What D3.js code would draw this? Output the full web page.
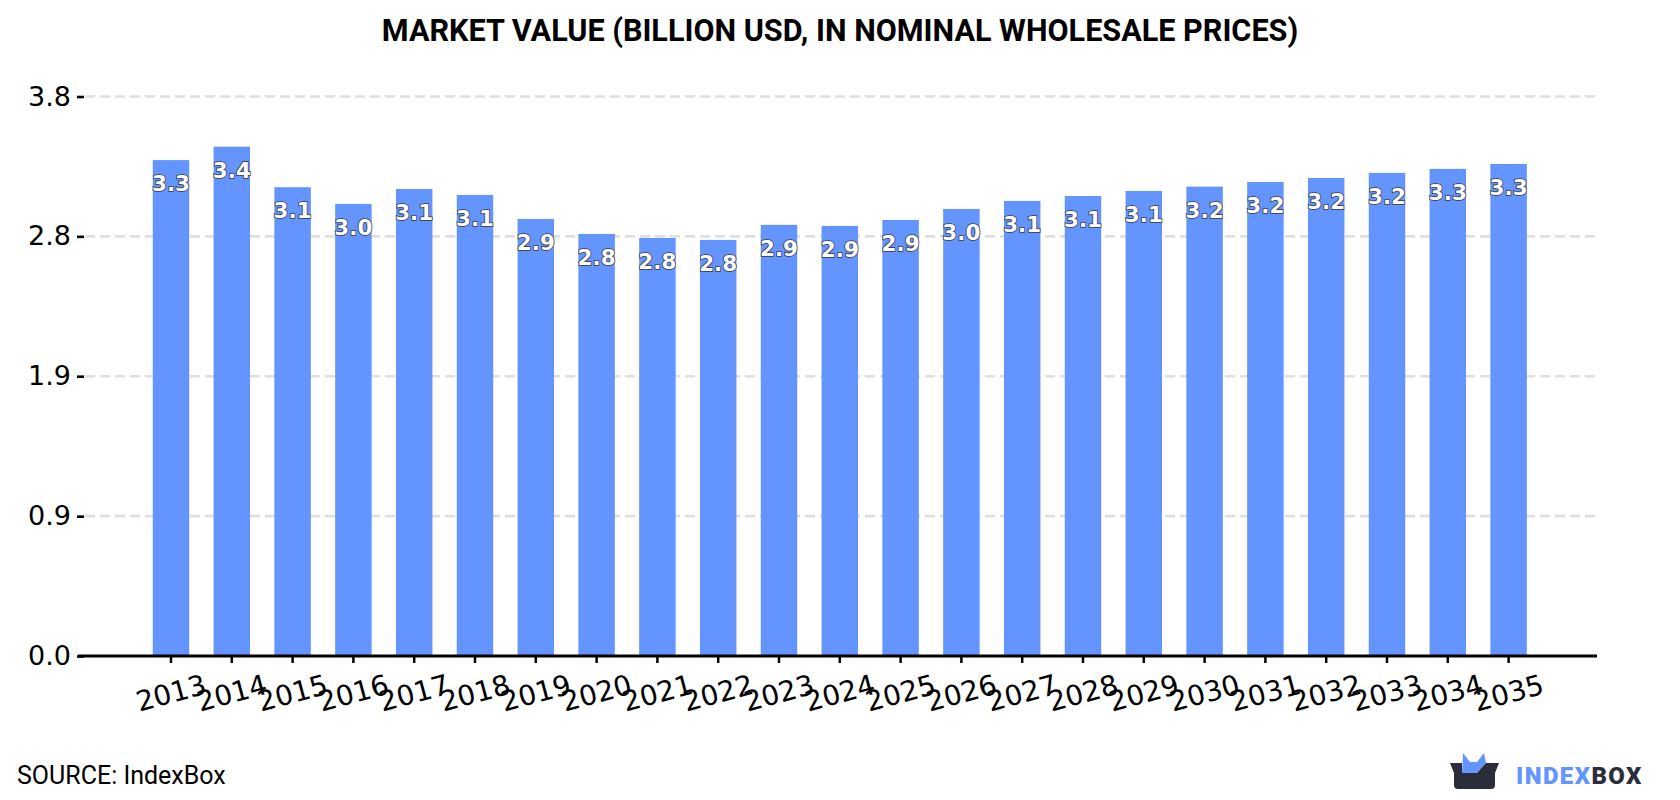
<!DOCTYPE html>
<html>
<head>
<meta charset="utf-8">
<script src="https://cdn.jsdelivr.net/npm/d3@7/dist/d3.min.js"></script>
<style>
html, body { margin: 0; padding: 0; background: #fff; }
svg { display: block; }
</style>
</head>
<body>
<svg id="chart" width="1680" height="800"></svg>
<script>
const years = ["2013","2014","2015","2016","2017","2018","2019","2020","2021","2022","2023","2024","2025","2026","2027","2028","2029","2030","2031","2032","2033","2034","2035"];
const marketValue = [3.33,3.42,3.148,3.036,3.136,3.096,2.935,2.834,2.807,2.794,2.895,2.888,2.928,3.002,3.056,3.089,3.123,3.152,3.183,3.21,3.244,3.271,3.304];
const yTicks = [0, 0.939, 1.879, 2.818, 3.757];
const yTickLabels = ["0.0","0.9","1.9","2.8","3.8"];

const titleText = "MARKET VALUE (BILLION USD, IN NOMINAL WHOLESALE PRICES)";
const sourceText = "SOURCE: IndexBox";

const svg = d3.select("#chart");

const x = d3.scaleBand().domain(years).range([140.6, 1539]).paddingInner(0.4).paddingOuter(0.2);
const y = d3.scaleLinear().domain([0, 3.757]).range([656, 96.5]);

svg.append("text")
  .attr("x", 840).attr("y", 41)
  .attr("text-anchor", "middle")
  .attr("font-family", "Roboto")
  .attr("font-weight", 700)
  .attr("font-size", 30.6)
  .attr("fill", "#000")
  .text(titleText);

// Dashed horizontal grid, skipping the baseline
svg.append("g").selectAll("line")
  .data(yTicks.slice(1))
  .join("line")
  .attr("x1", 85).attr("x2", 1597)
  .attr("y1", d => y(d)).attr("y2", d => y(d))
  .attr("stroke", "#e0e0e0")
  .attr("stroke-width", 2.6)
  .attr("stroke-dasharray", "10 5");

svg.append("g").selectAll("rect")
  .data(marketValue)
  .join("rect")
  .attr("x", (d, i) => x(years[i]))
  .attr("y", d => y(d))
  .attr("width", x.bandwidth())
  .attr("height", d => y(0) - y(d))
  .attr("fill", "#6495ff");

const yAxis = d3.axisLeft(y)
  .tickValues(yTicks)
  .tickFormat((d, i) => yTickLabels[i])
  .tickSize(7)
  .tickPadding(6);

const yG = svg.append("g").attr("transform", "translate(84,0)").call(yAxis);
yG.select(".domain").remove();
yG.selectAll(".tick line").attr("stroke", "#000").attr("stroke-width", 2.6);
yG.selectAll(".tick text")
  .attr("font-family", "DejaVu Sans")
  .attr("font-size", 27)
  .attr("fill", "#000");

const xAxis = d3.axisBottom(x).tickSize(7).tickPadding(6);
const xG = svg.append("g").attr("transform", "translate(0,656)").call(xAxis);
xG.select(".domain").remove();
xG.selectAll(".tick line").attr("stroke", "#000").attr("stroke-width", 2.5);
xG.selectAll(".tick text")
  .attr("font-family", "DejaVu Sans")
  .attr("font-size", 28)
  .attr("fill", "#000")
  .attr("text-anchor", "middle")
  .attr("y", 0)
  .attr("dy", "0.35em")
  .attr("transform", "translate(0,37) rotate(-15)");

// Baseline sits above the tick marks
svg.append("line")
  .attr("x1", 78).attr("x2", 1597)
  .attr("y1", 656).attr("y2", 656)
  .attr("stroke", "#000")
  .attr("stroke-width", 3);

svg.append("g").selectAll("text")
  .data(marketValue)
  .join("text")
  .attr("x", (d, i) => x(years[i]) + x.bandwidth() / 2)
  .attr("y", d => y(d) + 31)
  .attr("text-anchor", "middle")
  .attr("font-family", "DejaVu Sans")
  .attr("font-weight", 700)
  .attr("font-size", 21.5)
  .attr("fill", "#fff")
  .attr("stroke", "#3a3a3a")
  .attr("stroke-width", 1.6)
  .attr("paint-order", "stroke")
  .text(d => d.toFixed(1));

svg.append("text")
  .attr("x", 17).attr("y", 784)
  .attr("font-family", "Roboto")
  .attr("font-size", 25)
  .attr("fill", "#000")
  .text(sourceText);

// Brand mark: open box with a blue shape rising out of it
const logo = svg.append("g").attr("transform", "translate(1450,753)");
logo.append("path")
  .attr("d", "M13,0 L20,9 L27,9 L34,0 L36,10 L27,20 L12,20 Z")
  .attr("fill", "#6495ff");
logo.append("path")
  .attr("d", "M0,10 L12,10 L12,20 L27,20 L36,10 L49,10 L45,20 L45,32 Q45,36 41,36 L8,36 Q4,36 4,32 L4,20 Z")
  .attr("fill", "#2b2d3a");

const wordmark = svg.append("text")
  .attr("x", 1516).attr("y", 784)
  .attr("font-family", "Roboto")
  .attr("font-weight", 900)
  .attr("font-size", 24)
  .attr("letter-spacing", 1.4);
wordmark.append("tspan").attr("fill", "#6495ff").text("INDEX");
wordmark.append("tspan").attr("fill", "#2b2d3a").text("BOX");
</script>
</body>
</html>
